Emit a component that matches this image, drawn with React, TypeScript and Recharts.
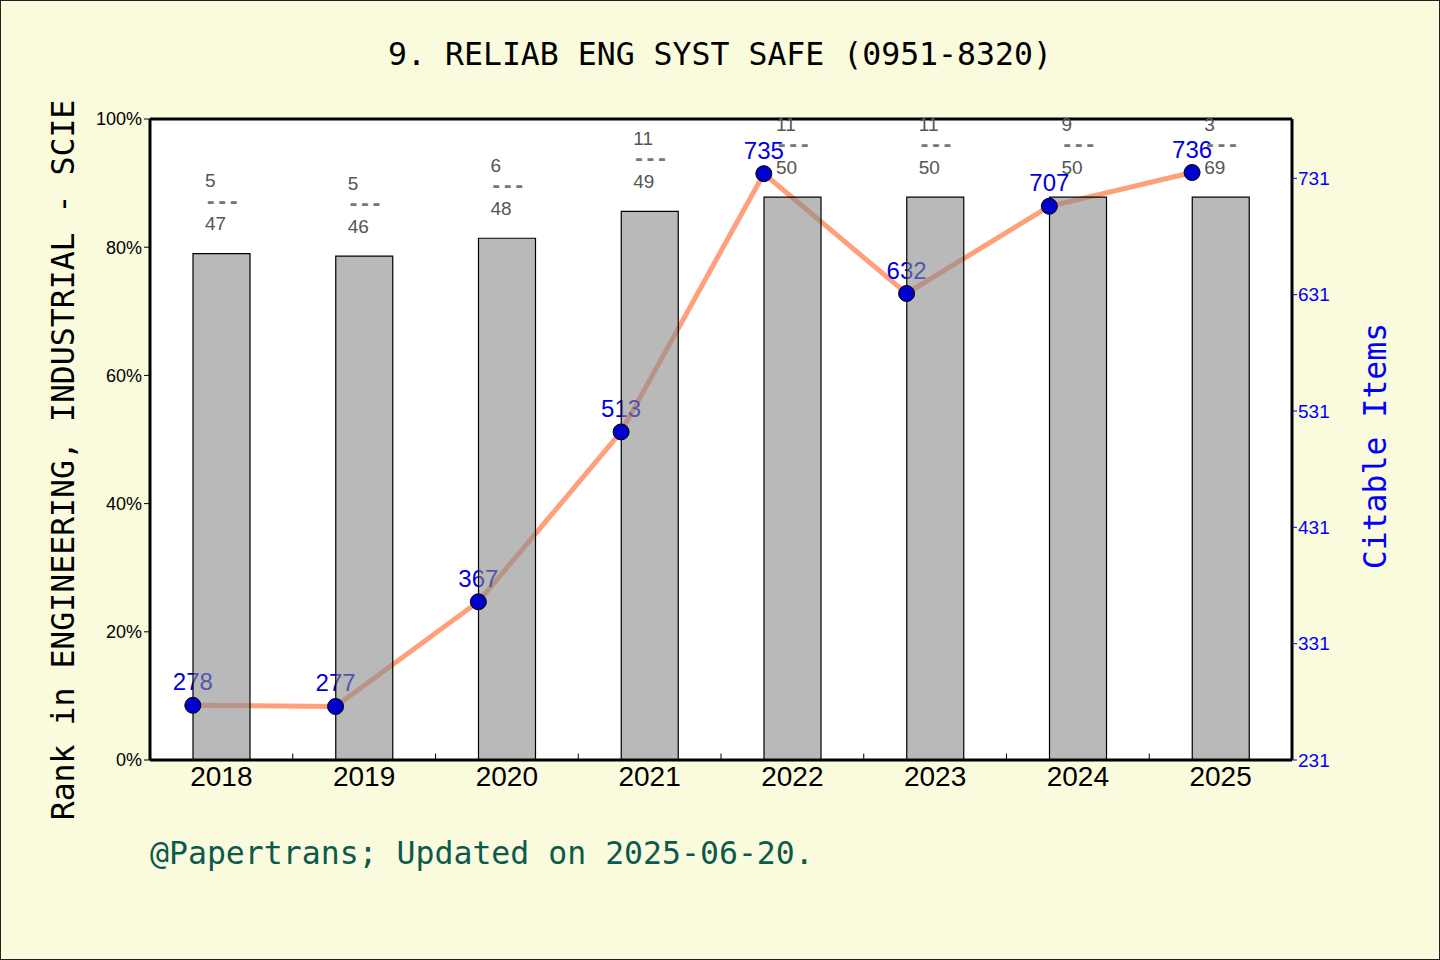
import React from 'react';
import {
  ComposedChart,
  Bar,
  Line,
  XAxis,
  YAxis,
  CartesianGrid,
  LabelList,
  ReferenceLine,
} from 'recharts';

const years = ['2018', '2019', '2020', '2021', '2022', '2023', '2024', '2025'];
const rankPct = [79.0, 78.6, 81.4, 85.6, 87.8, 87.8, 87.8, 87.8];
const ranks = [5, 5, 6, 11, 11, 11, 9, 3];
const totals = [47, 46, 48, 49, 50, 50, 50, 69];
const citable = [278, 277, 367, 513, 735, 632, 707, 736];
const leftTicks = [0, 20, 40, 60, 80, 100];
const rightTicks = [231, 331, 431, 531, 631, 731];

const data = years.map((year, i) => ({
  year,
  pos: i + 0.3,
  pct: rankPct[i],
  items: citable[i],
}));

const MONO = '"DejaVu Sans Mono", monospace';
const SANS = '"Liberation Sans", Arial, sans-serif';

const RankLabel = (props: any) => {
  const { x, y, index } = props;
  const tx = x + 12;
  return (
    <g>
      <text x={tx} y={y - 73} fill="#555" fontSize={19} fontFamily={SANS} dominantBaseline="central">
        {ranks[index]}
      </text>
      <text
        x={tx}
        y={y - 53}
        fill="#777"
        fontSize={19}
        fontWeight="bold"
        fontFamily={MONO}
        dominantBaseline="central"
      >
        ---
      </text>
      <text x={tx} y={y - 30} fill="#555" fontSize={19} fontFamily={SANS} dominantBaseline="central">
        {totals[index]}
      </text>
    </g>
  );
};

export default function App() {
  return (
    <div
      style={{
        position: 'absolute',
        left: 0,
        top: 0,
        width: 1440,
        height: 960,
        background: '#fafadc',
        outline: '1px solid #222',
        outlineOffset: -1,
      }}
    >
      <div
        style={{
          position: 'absolute',
          left: 0,
          width: 1440,
          top: 36,
          textAlign: 'center',
          fontFamily: MONO,
          fontSize: 31.5,
          color: '#000',
        }}
      >
        9. RELIAB ENG SYST SAFE (0951-8320)
      </div>
      <ComposedChart
        width={1440}
        height={960}
        data={data}
        margin={{ top: 119, right: 88, bottom: 160, left: 90 }}
      >
        <CartesianGrid fill="#ffffff" stroke="none" horizontal={false} vertical={false} />
        <XAxis
          xAxisId="cat"
          dataKey="year"
          type="category"
          interval={0}
          height={40}
          tickLine={false}
          tickSize={4}
          tickMargin={2}
          axisLine={{ stroke: '#000', strokeWidth: 3 }}
          tick={{ fill: '#000', fontSize: 28, fontFamily: SANS }}
        />
        <XAxis xAxisId="pos" dataKey="pos" type="number" domain={[0, 8]} hide />
        <YAxis
          yAxisId="left"
          orientation="left"
          domain={[0, 100]}
          ticks={leftTicks}
          width={60}
          tickSize={6}
          tickMargin={2}
          tickFormatter={(v) => `${v}%`}
          axisLine={{ stroke: '#000', strokeWidth: 3 }}
          tickLine={{ stroke: '#000' }}
          tick={{ fill: '#000', fontSize: 18, fontFamily: SANS }}
          label={{
            content: () => (
              <text
                x={63}
                y={460}
                transform="rotate(-90 63 460)"
                textAnchor="middle"
                dominantBaseline="central"
                fontFamily={MONO}
                fontSize={31.5}
                fill="#000"
              >
                Rank in ENGINEERING, INDUSTRIAL - SCIE
              </text>
            ),
          }}
        />
        <YAxis
          yAxisId="right"
          orientation="right"
          domain={[231, 782]}
          ticks={rightTicks}
          allowDataOverflow
          width={60}
          tickSize={5}
          tickMargin={1}
          axisLine={{ stroke: '#000', strokeWidth: 3 }}
          tickLine={{ stroke: '#0000ff' }}
          tick={{ fill: '#0000ff', fontSize: 19, fontFamily: SANS, textAnchor: 'start' }}
          label={{
            content: () => (
              <text
                x={1375}
                y={446}
                transform="rotate(-90 1375 446)"
                textAnchor="middle"
                dominantBaseline="central"
                fontFamily={MONO}
                fontSize={31.5}
                fill="#0000ff"
              >
                Citable Items
              </text>
            ),
          }}
        />
        <ReferenceLine yAxisId="left" xAxisId="cat" y={100} stroke="#000" strokeWidth={3} />
        {years.slice(1).map((_, i) => (
          <ReferenceLine
            key={i}
            xAxisId="pos"
            yAxisId="left"
            segment={[
              { x: i + 1, y: 0 },
              { x: i + 1, y: 1 },
            ]}
            stroke="#000"
            strokeWidth={1}
          />
        ))}
        <Line
          xAxisId="pos"
          yAxisId="right"
          dataKey="items"
          stroke="#ffa07a"
          strokeWidth={5}
          dot={{ r: 8, fill: '#0000cc', stroke: '#000', strokeWidth: 1 }}
          activeDot={false}
          isAnimationActive={false}
          zIndex={250}
        >
          <LabelList
            dataKey="items"
            position="top"
            offset={15}
            fill="#0000dd"
            fontSize={24}
            fontFamily={SANS}
            zIndex={260}
          />
        </Line>
        <Bar
          xAxisId="cat"
          yAxisId="left"
          dataKey="pct"
          barSize={57}
          fill="#8a8a8c"
          fillOpacity={0.6}
          stroke="#000"
          strokeWidth={1.2}
          isAnimationActive={false}
          zIndex={300}
        >
          <LabelList dataKey="pct" content={<RankLabel />} />
        </Bar>
      </ComposedChart>
      <div
        style={{
          position: 'absolute',
          left: 150,
          top: 835,
          fontFamily: MONO,
          fontSize: 31.5,
          color: '#0c5a4c',
          whiteSpace: 'pre',
        }}
      >
        @Papertrans; Updated on 2025-06-20.
      </div>
    </div>
  );
}
